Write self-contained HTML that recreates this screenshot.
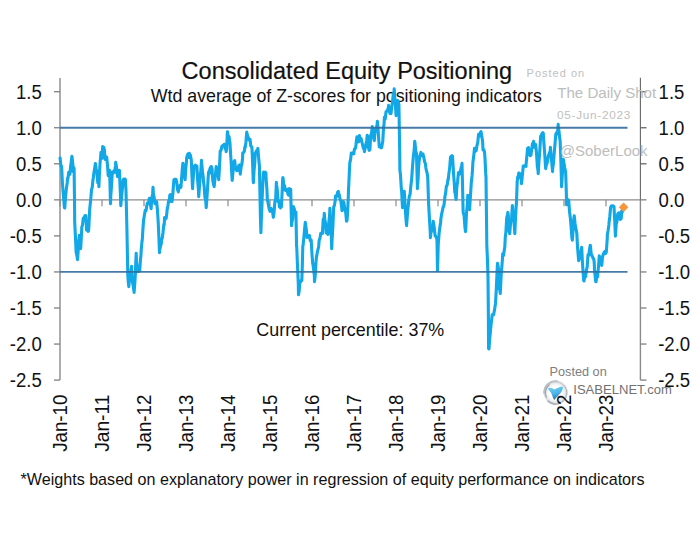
<!DOCTYPE html>
<html><head><meta charset="utf-8"><style>
html,body{margin:0;padding:0;background:#fff;}
svg{display:block;font-family:"Liberation Sans", sans-serif;}
</style></head><body>
<svg width="700" height="536" viewBox="0 0 700 536" font-family='"Liberation Sans", sans-serif' fill="#111" stroke="none">
<rect width="700" height="536" fill="#fff" stroke="none"/>
<text x="549.6" y="376.1" font-size="12.7" fill="#7d7d7d" stroke="none">Posted on</text>
<text x="573.3" y="393.7" font-size="13" textLength="98.6" lengthAdjust="spacingAndGlyphs" fill="#727272" stroke="none">ISABELNET.com</text>
<g transform="translate(555.6,392.6)" stroke="none">
<defs><linearGradient id="bg" x1="0" y1="0" x2="0.3" y2="1"><stop offset="0" stop-color="#74d2f3"/><stop offset="0.6" stop-color="#4cb4e6"/><stop offset="1" stop-color="#2a78b8"/></linearGradient>
<radialGradient id="gg" cx="0.5" cy="0.5" r="0.5"><stop offset="0.55" stop-color="#ffffff"/><stop offset="1" stop-color="#d3d7dd"/></radialGradient></defs>
<circle r="12" fill="url(#gg)"/>
<path d="M-11.5,1 A11.5,11.5 0 0 1 2,-11.4" fill="none" stroke="#b4b9c0" stroke-width="1.5"/>
<path d="M-9,5 A10,10 0 0 1 -6,-8" fill="none" stroke="#9ea4ac" stroke-width="1.2"/>
<path d="M8.5,-7 A11,11 0 0 1 6,9.5" fill="none" stroke="#b9bec5" stroke-width="1.4"/>
<path d="M4,10.8 A11.5,11.5 0 0 1 -8,8" fill="none" stroke="#aab0b8" stroke-width="1.5"/>
<path d="M-6,-9 A11,11 0 0 1 9,-6" fill="none" stroke="#c8ccd2" stroke-width="1"/>
<path d="M-7.4,-4.4 C-5.5,-5.6 -3,-4 -1,-3.2 C1.5,-4.5 5,-6.5 7.4,-5.6 C7.2,-2.5 5.5,0.5 3.2,2.3 C1.5,3.8 0,5.5 -1.4,7.4 C-2.8,5.8 -3.2,3 -4.4,0.5 C-5.6,-1.5 -7.6,-2.6 -7.4,-4.4 Z" fill="url(#bg)"/>
</g>
<line x1="60" y1="78" x2="60" y2="380.1" stroke="#8a8a8a" stroke-width="1.4"/>
<line x1="640.4" y1="200" x2="640.4" y2="380.1" stroke="#8a8a8a" stroke-width="1.4"/>
<line x1="640.4" y1="77.8" x2="640.4" y2="200" stroke="#666" stroke-width="1.1"/>
<line x1="54" y1="91.70" x2="60" y2="91.70" stroke="#808080" stroke-width="1.3"/>
<line x1="640.4" y1="91.70" x2="646.5" y2="91.70" stroke="#666" stroke-width="1.3"/>
<text x="41.8" y="98.60" text-anchor="end" font-size="19.3" textLength="25.8" lengthAdjust="spacingAndGlyphs">1.5</text>
<text x="658.6" y="98.60" font-size="19.3" textLength="25.8" lengthAdjust="spacingAndGlyphs">1.5</text>
<line x1="54" y1="127.75" x2="60" y2="127.75" stroke="#808080" stroke-width="1.3"/>
<line x1="640.4" y1="127.75" x2="646.5" y2="127.75" stroke="#666" stroke-width="1.3"/>
<text x="41.8" y="134.65" text-anchor="end" font-size="19.3" textLength="25.8" lengthAdjust="spacingAndGlyphs">1.0</text>
<text x="658.6" y="134.65" font-size="19.3" textLength="25.8" lengthAdjust="spacingAndGlyphs">1.0</text>
<line x1="54" y1="163.80" x2="60" y2="163.80" stroke="#808080" stroke-width="1.3"/>
<line x1="640.4" y1="163.80" x2="646.5" y2="163.80" stroke="#666" stroke-width="1.3"/>
<text x="41.8" y="170.70" text-anchor="end" font-size="19.3" textLength="25.8" lengthAdjust="spacingAndGlyphs">0.5</text>
<text x="658.6" y="170.70" font-size="19.3" textLength="25.8" lengthAdjust="spacingAndGlyphs">0.5</text>
<line x1="54" y1="199.85" x2="60" y2="199.85" stroke="#808080" stroke-width="1.3"/>
<line x1="640.4" y1="199.85" x2="646.5" y2="199.85" stroke="#808080" stroke-width="1.3"/>
<text x="41.8" y="206.75" text-anchor="end" font-size="19.3" textLength="25.8" lengthAdjust="spacingAndGlyphs">0.0</text>
<text x="658.6" y="206.75" font-size="19.3" textLength="25.8" lengthAdjust="spacingAndGlyphs">0.0</text>
<line x1="54" y1="235.90" x2="60" y2="235.90" stroke="#808080" stroke-width="1.3"/>
<line x1="640.4" y1="235.90" x2="646.5" y2="235.90" stroke="#808080" stroke-width="1.3"/>
<text x="41.8" y="242.80" text-anchor="end" font-size="19.3" textLength="32.0" lengthAdjust="spacingAndGlyphs">-0.5</text>
<text x="658.2" y="242.80" font-size="19.3" textLength="32.0" lengthAdjust="spacingAndGlyphs">-0.5</text>
<line x1="54" y1="271.95" x2="60" y2="271.95" stroke="#808080" stroke-width="1.3"/>
<line x1="640.4" y1="271.95" x2="646.5" y2="271.95" stroke="#808080" stroke-width="1.3"/>
<text x="41.8" y="278.85" text-anchor="end" font-size="19.3" textLength="32.0" lengthAdjust="spacingAndGlyphs">-1.0</text>
<text x="658.2" y="278.85" font-size="19.3" textLength="32.0" lengthAdjust="spacingAndGlyphs">-1.0</text>
<line x1="54" y1="308.00" x2="60" y2="308.00" stroke="#808080" stroke-width="1.3"/>
<line x1="640.4" y1="308.00" x2="646.5" y2="308.00" stroke="#808080" stroke-width="1.3"/>
<text x="41.8" y="314.90" text-anchor="end" font-size="19.3" textLength="32.0" lengthAdjust="spacingAndGlyphs">-1.5</text>
<text x="658.2" y="314.90" font-size="19.3" textLength="32.0" lengthAdjust="spacingAndGlyphs">-1.5</text>
<line x1="54" y1="344.05" x2="60" y2="344.05" stroke="#808080" stroke-width="1.3"/>
<line x1="640.4" y1="344.05" x2="646.5" y2="344.05" stroke="#808080" stroke-width="1.3"/>
<text x="41.8" y="350.95" text-anchor="end" font-size="19.3" textLength="32.0" lengthAdjust="spacingAndGlyphs">-2.0</text>
<text x="658.2" y="350.95" font-size="19.3" textLength="32.0" lengthAdjust="spacingAndGlyphs">-2.0</text>
<line x1="54" y1="380.10" x2="60" y2="380.10" stroke="#808080" stroke-width="1.3"/>
<line x1="640.4" y1="380.10" x2="646.5" y2="380.10" stroke="#808080" stroke-width="1.3"/>
<text x="41.8" y="387.00" text-anchor="end" font-size="19.3" textLength="32.0" lengthAdjust="spacingAndGlyphs">-2.5</text>
<text x="658.2" y="387.00" font-size="19.3" textLength="32.0" lengthAdjust="spacingAndGlyphs">-2.5</text>
<line x1="60" y1="199.85" x2="640" y2="199.85" stroke="#8c8c8c" stroke-width="1.35"/>
<line x1="60.00" y1="199.85" x2="60.00" y2="206.35" stroke="#8a8a8a" stroke-width="1.2"/>
<text transform="translate(66.90,394.6) rotate(-90)" text-anchor="end" font-size="19.3" textLength="57.2" lengthAdjust="spacingAndGlyphs">Jan-10</text>
<line x1="102.00" y1="199.85" x2="102.00" y2="206.35" stroke="#8a8a8a" stroke-width="1.2"/>
<text transform="translate(108.90,394.6) rotate(-90)" text-anchor="end" font-size="19.3" textLength="57.2" lengthAdjust="spacingAndGlyphs">Jan-11</text>
<line x1="144.00" y1="199.85" x2="144.00" y2="206.35" stroke="#8a8a8a" stroke-width="1.2"/>
<text transform="translate(150.90,394.6) rotate(-90)" text-anchor="end" font-size="19.3" textLength="57.2" lengthAdjust="spacingAndGlyphs">Jan-12</text>
<line x1="186.00" y1="199.85" x2="186.00" y2="206.35" stroke="#8a8a8a" stroke-width="1.2"/>
<text transform="translate(192.90,394.6) rotate(-90)" text-anchor="end" font-size="19.3" textLength="57.2" lengthAdjust="spacingAndGlyphs">Jan-13</text>
<line x1="228.00" y1="199.85" x2="228.00" y2="206.35" stroke="#8a8a8a" stroke-width="1.2"/>
<text transform="translate(234.90,394.6) rotate(-90)" text-anchor="end" font-size="19.3" textLength="57.2" lengthAdjust="spacingAndGlyphs">Jan-14</text>
<line x1="270.00" y1="199.85" x2="270.00" y2="206.35" stroke="#8a8a8a" stroke-width="1.2"/>
<text transform="translate(276.90,394.6) rotate(-90)" text-anchor="end" font-size="19.3" textLength="57.2" lengthAdjust="spacingAndGlyphs">Jan-15</text>
<line x1="312.00" y1="199.85" x2="312.00" y2="206.35" stroke="#8a8a8a" stroke-width="1.2"/>
<text transform="translate(318.90,394.6) rotate(-90)" text-anchor="end" font-size="19.3" textLength="57.2" lengthAdjust="spacingAndGlyphs">Jan-16</text>
<line x1="354.00" y1="199.85" x2="354.00" y2="206.35" stroke="#8a8a8a" stroke-width="1.2"/>
<text transform="translate(360.90,394.6) rotate(-90)" text-anchor="end" font-size="19.3" textLength="57.2" lengthAdjust="spacingAndGlyphs">Jan-17</text>
<line x1="396.00" y1="199.85" x2="396.00" y2="206.35" stroke="#8a8a8a" stroke-width="1.2"/>
<text transform="translate(402.90,394.6) rotate(-90)" text-anchor="end" font-size="19.3" textLength="57.2" lengthAdjust="spacingAndGlyphs">Jan-18</text>
<line x1="438.00" y1="199.85" x2="438.00" y2="206.35" stroke="#8a8a8a" stroke-width="1.2"/>
<text transform="translate(444.90,394.6) rotate(-90)" text-anchor="end" font-size="19.3" textLength="57.2" lengthAdjust="spacingAndGlyphs">Jan-19</text>
<line x1="480.00" y1="199.85" x2="480.00" y2="206.35" stroke="#8a8a8a" stroke-width="1.2"/>
<text transform="translate(486.90,394.6) rotate(-90)" text-anchor="end" font-size="19.3" textLength="57.2" lengthAdjust="spacingAndGlyphs">Jan-20</text>
<line x1="522.00" y1="199.85" x2="522.00" y2="206.35" stroke="#8a8a8a" stroke-width="1.2"/>
<text transform="translate(528.90,394.6) rotate(-90)" text-anchor="end" font-size="19.3" textLength="57.2" lengthAdjust="spacingAndGlyphs">Jan-21</text>
<line x1="564.00" y1="199.85" x2="564.00" y2="206.35" stroke="#8a8a8a" stroke-width="1.2"/>
<text transform="translate(570.90,394.6) rotate(-90)" text-anchor="end" font-size="19.3" textLength="57.2" lengthAdjust="spacingAndGlyphs">Jan-22</text>
<line x1="606.00" y1="199.85" x2="606.00" y2="206.35" stroke="#8a8a8a" stroke-width="1.2"/>
<text transform="translate(612.90,394.6) rotate(-90)" text-anchor="end" font-size="19.3" textLength="57.2" lengthAdjust="spacingAndGlyphs">Jan-23</text>
<text x="526.6" y="77.3" font-size="11" letter-spacing="1" fill="#c0c0c0" stroke="none">Posted on</text>
<text x="557.2" y="98.3" font-size="15.1" fill="#bdbdbd" stroke="none">The Daily Shot</text>
<text x="557.0" y="118.9" font-size="11.8" letter-spacing="0.7" fill="#c0c0c0" stroke="none">05-Jun-2023</text>
<text x="181.6" y="78.6" font-size="24.6" textLength="330.5" lengthAdjust="spacingAndGlyphs" stroke="#111" stroke-width="0.2">Consolidated Equity Positioning</text>
<text x="150.8" y="102.3" font-size="18.2" textLength="391" lengthAdjust="spacingAndGlyphs" >Wtd average of Z-scores for positioning indicators</text>
<text x="256.3" y="336.3" font-size="18.2" textLength="188" lengthAdjust="spacingAndGlyphs" >Current percentile: 37%</text>
<text x="20.5" y="485.4" font-size="16.1" textLength="624" lengthAdjust="spacingAndGlyphs" >*Weights based on explanatory power in regression of equity performance on indicators</text>
<path d="M60.0,158.2 L60.1,158.0 L60.8,165.2 L61.6,167.0 L61.6,166.2 L62.4,183.0 L63.1,192.0 L63.2,192.8 L64.0,202.5 L64.4,207.6 L64.8,208.0 L65.6,196.0 L65.7,195.0 L66.4,188.3 L67.2,182.9 L67.6,178.0 L68.0,178.4 L68.7,172.4 L68.9,172.5 L69.7,174.4 L70.0,173.6 L70.5,167.1 L71.3,161.2 L71.9,156.4 L72.1,157.4 L72.9,164.6 L73.2,171.6 L73.7,167.6 L74.1,168.4 L74.5,199.2 L74.7,222.0 L75.3,234.1 L76.1,251.5 L76.1,252.0 L76.9,255.6 L77.5,259.6 L77.7,257.1 L78.4,248.0 L78.5,243.2 L79.3,235.4 L79.3,235.4 L80.1,244.3 L80.6,248.6 L80.9,244.9 L81.7,230.0 L81.7,227.8 L82.5,225.0 L83.3,218.2 L84.0,219.0 L84.1,217.5 L85.0,215.6 L85.5,216.4 L85.8,215.7 L86.6,230.2 L86.8,230.0 L87.4,229.2 L88.2,231.4 L88.6,230.6 L89.0,224.0 L89.6,211.0 L89.8,208.1 L90.6,200.6 L91.4,191.4 L91.4,190.0 L92.2,187.5 L93.0,179.3 L93.3,178.0 L93.8,173.6 L94.6,168.8 L95.4,163.6 L95.6,164.4 L96.2,169.0 L97.0,173.3 L97.4,178.0 L97.8,183.0 L98.6,180.6 L98.9,186.6 L99.4,174.4 L100.2,160.5 L100.4,160.0 L101.0,152.2 L101.9,158.4 L102.3,152.0 L102.7,146.6 L103.5,147.7 L103.8,147.4 L104.3,149.4 L105.1,159.4 L105.4,158.6 L105.9,156.6 L106.7,159.4 L106.7,157.4 L107.5,165.2 L108.2,175.6 L108.3,174.9 L109.1,170.9 L109.7,170.4 L109.9,180.4 L110.5,203.6 L110.7,197.2 L111.5,185.8 L112.3,172.4 L112.3,173.2 L113.1,173.2 L113.9,170.8 L114.2,171.6 L114.7,172.0 L115.5,165.7 L115.7,162.4 L116.3,166.0 L117.1,174.0 L117.6,176.6 L118.0,174.3 L118.8,176.6 L119.4,170.4 L119.6,175.0 L120.4,194.2 L120.8,205.6 L121.2,201.1 L122.0,192.6 L122.8,184.0 L123.2,180.0 L123.6,179.2 L124.4,180.8 L125.2,179.2 L125.4,180.0 L126.0,190.6 L126.8,224.7 L126.9,228.0 L127.6,264.8 L127.8,275.0 L128.4,283.1 L128.8,286.6 L129.2,282.3 L130.0,275.1 L130.3,273.0 L130.8,271.1 L131.6,266.4 L131.6,269.4 L132.4,279.9 L132.5,282.0 L133.2,285.9 L134.0,291.6 L134.1,292.4 L134.9,281.9 L135.3,275.0 L135.7,264.0 L136.2,253.4 L136.5,262.2 L137.3,268.3 L137.7,271.6 L138.1,270.2 L138.9,270.2 L139.6,271.0 L139.7,270.7 L140.5,258.7 L140.9,256.0 L141.3,248.9 L142.1,240.2 L142.2,241.0 L142.9,229.4 L143.7,219.0 L143.7,219.8 L144.5,214.5 L145.3,210.2 L145.6,211.0 L146.1,210.3 L146.9,205.2 L147.4,203.0 L147.7,203.8 L148.5,203.1 L149.3,198.4 L149.3,198.3 L150.1,202.9 L151.0,207.7 L151.1,208.6 L151.8,198.5 L152.6,193.9 L153.0,187.4 L153.4,193.8 L154.2,197.8 L154.9,203.6 L155.0,203.0 L155.8,202.4 L156.6,201.6 L156.7,202.4 L157.4,209.5 L158.2,222.0 L158.2,222.0 L159.0,239.9 L159.5,252.6 L159.8,249.0 L160.6,245.9 L161.4,243.0 L161.4,239.1 L162.2,238.5 L163.0,232.7 L163.8,224.6 L164.2,225.0 L164.6,217.5 L165.4,219.2 L166.2,218.1 L167.0,212.0 L167.1,209.9 L167.9,205.8 L168.7,200.8 L169.5,198.9 L169.8,195.4 L170.3,194.6 L171.1,201.4 L171.9,200.5 L172.0,201.6 L172.7,196.0 L173.5,184.7 L173.9,180.0 L174.3,179.5 L175.1,179.2 L175.9,179.2 L176.3,180.4 L176.7,182.2 L177.5,189.2 L178.2,191.6 L178.3,191.8 L179.1,186.9 L179.9,186.9 L180.1,185.4 L180.7,187.4 L181.0,186.6 L181.5,179.6 L182.3,169.1 L182.9,163.4 L183.2,164.3 L184.0,173.1 L184.8,178.4 L185.1,179.6 L185.6,170.7 L186.4,162.2 L186.6,158.0 L187.2,155.9 L188.0,153.9 L188.8,157.4 L189.4,153.4 L189.6,156.0 L190.4,155.1 L191.2,159.8 L191.3,160.0 L192.0,176.7 L192.6,188.6 L192.8,183.9 L193.6,173.0 L194.1,166.0 L194.4,166.8 L195.2,165.2 L196.0,166.8 L196.8,166.8 L196.9,166.0 L197.6,179.8 L198.4,189.0 L198.7,196.6 L199.2,190.3 L200.1,177.0 L200.9,170.1 L201.5,160.4 L201.7,163.6 L202.5,171.4 L203.3,177.8 L203.4,181.0 L204.1,186.0 L204.9,197.1 L205.7,200.6 L206.2,207.6 L206.5,204.4 L207.3,192.5 L208.1,178.7 L208.6,172.0 L208.9,172.8 L209.7,169.5 L210.5,167.4 L210.5,172.6 L211.3,166.6 L212.1,168.9 L212.3,175.0 L212.9,181.2 L213.7,185.3 L214.2,186.6 L214.5,182.9 L215.3,176.5 L216.2,166.6 L216.4,167.4 L217.0,168.8 L217.8,172.1 L218.6,178.4 L218.7,179.6 L219.4,168.9 L220.2,151.6 L220.2,151.0 L221.0,150.5 L221.8,146.5 L222.6,145.7 L223.0,146.0 L223.4,145.9 L224.2,144.3 L224.8,144.4 L225.0,148.6 L225.8,147.9 L226.1,151.6 L226.6,149.4 L227.4,131.9 L227.6,131.9 L228.2,137.2 L229.0,136.3 L229.8,142.8 L229.9,142.0 L230.6,154.2 L231.4,166.0 L231.4,167.6 L232.2,180.4 L232.3,179.6 L233.1,170.8 L233.9,162.2 L234.2,161.4 L234.7,160.6 L235.5,169.2 L236.3,167.7 L236.6,170.6 L237.1,168.0 L237.9,167.5 L238.7,170.4 L238.8,165.4 L239.5,165.0 L240.3,174.2 L240.3,173.6 L241.1,167.2 L241.9,164.0 L242.6,158.0 L242.7,153.1 L243.5,152.5 L244.3,151.4 L244.8,147.0 L245.1,147.8 L245.9,142.4 L246.7,132.9 L246.7,132.1 L247.5,135.5 L248.3,137.5 L249.1,140.0 L249.2,139.2 L250.0,139.2 L250.8,146.0 L251.6,146.8 L251.9,147.0 L252.4,157.9 L253.2,180.2 L253.4,182.6 L254.0,171.1 L254.8,162.3 L255.3,153.0 L255.6,152.5 L256.4,150.9 L257.2,150.8 L257.9,148.4 L258.0,150.1 L258.8,159.7 L259.4,166.0 L259.6,176.3 L260.4,216.0 L260.9,232.6 L261.2,222.9 L262.0,204.1 L262.2,197.0 L262.8,184.6 L263.3,173.0 L263.6,172.2 L264.4,173.8 L265.3,172.2 L265.9,173.0 L266.1,178.7 L266.9,189.0 L267.4,201.0 L267.7,200.7 L268.5,205.4 L269.3,209.4 L270.1,211.4 L270.2,210.6 L270.9,211.1 L271.1,208.4 L271.7,209.9 L272.5,210.9 L273.3,217.2 L273.5,216.6 L274.1,211.9 L274.9,201.7 L275.7,199.1 L275.8,196.0 L276.4,182.4 L276.5,184.2 L277.3,190.3 L278.0,200.0 L278.1,201.7 L278.9,201.2 L279.5,207.0 L279.7,206.2 L280.5,207.8 L281.3,206.2 L281.4,207.0 L282.2,190.5 L282.7,178.4 L283.0,177.6 L283.8,185.3 L284.6,185.7 L285.1,190.0 L285.4,190.4 L286.2,189.2 L287.0,189.2 L287.3,190.0 L287.8,193.8 L288.6,195.1 L288.8,194.6 L289.4,188.6 L290.2,193.0 L290.7,189.4 L291.0,203.9 L291.6,225.6 L291.8,222.7 L292.6,219.2 L293.4,206.6 L293.5,207.4 L294.2,208.6 L295.0,212.8 L295.8,212.8 L295.9,212.0 L296.6,246.6 L296.7,246.0 L297.4,263.5 L298.3,283.6 L298.5,294.6 L299.1,291.8 L299.9,281.9 L300.3,282.4 L300.7,281.6 L301.5,279.8 L301.8,280.6 L302.3,266.6 L302.8,246.0 L303.1,245.3 L303.9,237.1 L304.7,228.2 L305.3,222.4 L305.5,224.1 L306.3,229.6 L307.1,236.6 L307.1,237.4 L307.9,237.1 L308.7,237.4 L309.4,236.4 L309.5,235.6 L310.3,240.8 L311.1,240.5 L311.2,240.0 L311.9,253.0 L312.7,263.5 L313.1,265.0 L313.5,268.2 L314.4,275.8 L314.5,281.6 L315.2,276.1 L316.0,261.8 L316.4,257.0 L316.8,255.5 L317.6,250.8 L318.4,247.9 L318.7,246.0 L319.2,240.2 L320.0,237.9 L320.6,234.4 L320.8,233.2 L321.6,233.9 L322.4,233.6 L322.4,233.6 L323.2,219.4 L324.0,218.5 L324.3,213.4 L324.8,219.8 L325.6,223.6 L326.1,233.0 L326.4,232.2 L327.2,233.4 L328.0,233.6 L328.0,234.4 L328.8,222.5 L329.6,215.1 L329.9,208.4 L330.4,220.7 L331.3,236.2 L331.7,248.6 L332.1,239.5 L332.9,226.1 L333.6,209.0 L333.7,207.1 L334.5,205.0 L335.3,200.0 L335.5,196.0 L336.1,196.5 L336.9,196.2 L337.7,192.0 L338.3,191.4 L338.5,192.4 L339.3,195.2 L340.1,199.3 L340.9,201.2 L341.7,207.8 L342.0,210.6 L342.5,205.8 L343.3,201.6 L343.9,202.4 L344.1,204.1 L344.9,209.6 L345.7,212.4 L346.5,221.2 L347.0,220.6 L347.4,215.7 L348.2,199.5 L348.5,190.0 L349.0,179.9 L349.8,162.8 L350.0,162.0 L350.6,159.4 L351.3,153.0 L351.4,153.7 L352.2,153.8 L353.0,152.8 L353.8,153.8 L354.1,151.0 L354.6,148.7 L355.4,148.5 L356.0,145.0 L356.2,142.3 L357.0,136.8 L357.8,139.2 L358.6,141.8 L359.3,136.4 L359.4,135.6 L360.2,140.8 L361.0,138.5 L361.8,140.9 L361.9,142.0 L362.6,145.0 L363.4,148.5 L364.3,148.7 L364.4,151.6 L365.1,148.1 L365.9,144.2 L366.7,140.5 L367.2,135.4 L367.5,135.8 L368.3,147.6 L369.0,149.6 L369.1,150.4 L369.9,149.6 L370.7,135.3 L371.5,133.7 L372.3,126.6 L372.4,127.4 L373.1,133.2 L373.9,139.2 L374.3,140.6 L374.7,135.3 L375.5,129.2 L376.3,128.5 L377.1,124.6 L377.4,121.4 L377.9,126.7 L378.7,138.9 L379.3,147.0 L379.5,146.2 L380.4,146.2 L381.2,147.8 L381.7,147.6 L382.0,145.4 L382.8,140.9 L383.6,126.5 L384.0,125.0 L384.4,117.4 L385.2,119.1 L386.0,111.8 L386.2,112.0 L386.8,111.1 L387.6,109.9 L388.4,107.4 L388.6,105.4 L389.2,110.9 L390.0,113.5 L390.8,109.0 L391.0,113.6 L391.6,108.3 L392.4,102.0 L392.4,102.8 L393.2,95.0 L394.0,92.4 L394.2,88.9 L394.8,97.8 L395.6,108.2 L396.1,115.6 L396.5,115.3 L397.3,104.6 L397.4,100.4 L398.1,101.4 L398.9,104.8 L398.9,104.0 L399.7,151.7 L399.9,170.0 L400.5,175.1 L401.3,188.6 L401.5,189.0 L402.1,200.0 L402.5,207.6 L402.9,201.5 L403.7,197.9 L404.3,191.4 L404.5,195.2 L405.3,209.4 L406.1,220.6 L406.6,225.6 L406.9,221.2 L407.7,211.0 L408.4,204.0 L408.5,202.7 L409.3,196.4 L410.1,194.3 L410.9,185.0 L410.9,185.8 L411.7,178.6 L412.5,166.9 L412.9,162.0 L413.4,156.2 L414.2,149.8 L414.7,141.4 L415.0,142.9 L415.8,151.3 L416.6,153.8 L416.6,158.0 L417.4,186.7 L417.4,188.6 L418.2,177.4 L418.5,168.0 L419.0,162.4 L419.8,156.0 L420.6,154.0 L420.9,152.4 L421.4,155.8 L422.2,155.8 L423.0,154.0 L423.1,155.0 L423.8,157.2 L424.6,161.8 L425.4,163.6 L425.9,168.0 L426.2,169.6 L427.0,172.6 L427.6,176.0 L427.8,179.2 L428.6,204.0 L428.6,203.5 L429.5,219.3 L430.3,232.9 L430.4,237.6 L431.1,231.1 L431.9,231.3 L432.7,229.0 L433.2,221.4 L433.5,222.7 L434.3,228.1 L435.1,235.8 L435.1,235.0 L435.9,236.9 L436.7,238.2 L437.0,241.0 L437.5,270.6 L437.5,270.6 L438.3,243.0 L438.3,243.8 L439.1,233.4 L439.9,227.1 L440.7,222.0 L440.7,220.3 L441.5,214.7 L442.3,211.2 L443.1,207.0 L443.1,207.8 L443.9,205.6 L444.7,199.1 L445.0,196.0 L445.6,193.3 L446.4,186.2 L447.2,185.1 L448.0,179.2 L448.2,180.0 L448.8,174.1 L449.6,168.6 L450.4,158.7 L450.5,157.0 L451.2,156.3 L452.0,155.6 L452.5,156.4 L452.8,161.1 L453.6,174.4 L454.4,185.0 L454.7,192.0 L455.2,193.0 L456.0,199.4 L456.2,198.6 L456.8,187.5 L457.6,181.2 L458.4,173.4 L458.4,172.6 L459.2,174.4 L459.5,173.6 L460.0,172.9 L460.8,169.4 L461.6,165.8 L462.0,163.4 L462.5,183.7 L463.1,211.0 L463.3,213.1 L464.1,215.5 L464.9,226.8 L465.5,231.6 L465.7,230.3 L466.5,212.8 L467.3,205.5 L467.8,195.4 L468.1,199.3 L468.9,200.4 L469.6,209.6 L469.7,207.0 L470.5,195.3 L471.3,182.6 L471.5,181.0 L472.1,175.2 L472.5,170.0 L472.9,162.4 L473.7,156.3 L474.5,148.4 L474.5,149.0 L475.3,151.2 L476.1,150.6 L476.2,150.6 L476.9,145.7 L477.7,142.9 L478.6,134.2 L478.8,135.0 L479.4,135.8 L480.2,132.8 L481.0,131.6 L481.2,132.4 L481.8,136.6 L482.6,141.3 L483.0,150.0 L483.4,149.2 L484.2,150.8 L484.5,152.0 L485.0,158.3 L485.8,175.3 L486.0,177.0 L486.6,225.9 L486.8,245.0 L487.4,258.0 L488.0,277.0 L488.2,296.2 L488.4,318.0 L488.6,348.6 L489.0,348.9 L489.8,337.5 L490.2,334.0 L490.6,329.1 L491.4,321.7 L492.2,314.9 L492.5,315.4 L493.0,314.6 L493.6,314.6 L493.8,313.8 L494.6,309.4 L495.5,303.4 L495.8,298.0 L496.3,289.3 L497.1,270.7 L497.5,263.4 L497.9,265.3 L498.7,270.6 L498.8,277.0 L499.2,289.0 L499.5,288.2 L500.3,293.4 L500.3,292.6 L501.1,276.3 L501.4,271.0 L501.9,266.1 L502.5,258.0 L502.7,253.8 L503.5,255.4 L504.3,250.1 L504.8,247.0 L505.1,240.8 L505.3,237.0 L505.9,232.1 L506.7,218.2 L507.5,214.6 L507.9,212.4 L508.3,215.3 L509.1,231.3 L509.7,233.6 L509.9,230.8 L510.7,222.2 L511.6,217.7 L512.4,205.6 L512.5,206.4 L513.2,217.6 L514.0,222.1 L514.8,233.1 L514.8,233.6 L515.6,216.1 L516.3,204.0 L516.4,204.4 L517.2,181.7 L517.7,177.0 L518.0,177.8 L518.8,173.0 L519.6,173.4 L519.6,173.4 L520.4,177.8 L521.2,179.3 L521.5,183.6 L522.0,179.1 L522.8,171.1 L523.3,166.0 L523.6,166.8 L524.4,165.9 L525.2,166.1 L526.0,166.4 L526.1,164.0 L526.8,156.9 L527.6,148.4 L528.0,148.4 L528.5,147.6 L529.3,154.2 L530.1,154.3 L530.2,155.6 L530.9,155.3 L531.7,149.5 L532.5,143.6 L533.3,144.9 L533.6,141.4 L534.1,147.3 L534.9,144.3 L535.7,144.5 L535.8,147.0 L536.5,152.8 L537.3,165.9 L538.1,171.2 L538.2,173.6 L538.9,161.8 L539.7,152.3 L540.5,138.6 L540.7,136.0 L541.3,135.6 L542.1,133.3 L542.9,132.6 L543.3,133.4 L543.7,140.4 L544.6,152.1 L545.4,165.0 L545.7,168.6 L546.2,165.2 L547.0,163.3 L547.8,159.7 L548.1,157.0 L548.6,155.2 L549.4,153.0 L550.2,150.7 L550.4,147.4 L551.0,154.4 L551.8,163.0 L552.6,171.6 L552.6,169.2 L553.4,163.5 L554.2,153.5 L555.0,144.1 L555.8,134.0 L556.0,134.0 L556.6,132.6 L557.4,133.9 L558.2,124.4 L558.2,125.7 L559.0,131.5 L559.8,139.0 L560.1,140.0 L560.7,155.7 L561.5,182.4 L561.6,186.6 L562.3,175.0 L563.1,162.9 L563.4,159.4 L563.9,162.7 L564.7,167.5 L565.5,171.4 L565.7,173.0 L566.3,191.7 L566.6,204.6 L567.1,204.3 L567.9,199.6 L568.7,200.4 L568.7,200.4 L569.5,211.2 L570.2,217.0 L570.3,217.4 L571.1,227.1 L571.9,237.8 L572.3,240.1 L572.7,236.0 L573.5,221.3 L574.2,215.9 L574.3,216.3 L575.1,224.0 L575.9,229.0 L575.9,228.2 L576.8,233.2 L577.6,248.2 L578.4,257.7 L578.6,260.6 L579.2,259.2 L580.0,255.0 L580.8,251.7 L581.6,248.5 L581.7,247.4 L582.4,262.1 L583.2,273.3 L583.7,280.6 L584.0,280.9 L584.8,275.9 L585.6,276.7 L586.2,272.0 L586.4,270.2 L587.2,267.0 L588.0,254.9 L588.8,255.1 L589.6,249.0 L590.2,245.4 L590.4,245.5 L591.2,254.0 L592.0,256.1 L592.2,256.0 L592.8,257.6 L593.7,259.1 L594.2,262.0 L594.5,269.9 L595.3,277.7 L595.7,281.6 L596.1,281.7 L596.9,275.0 L597.7,276.6 L597.8,273.0 L598.5,266.8 L599.3,255.9 L599.3,256.4 L600.1,258.7 L600.9,257.7 L601.7,265.4 L601.8,264.6 L602.5,257.0 L603.3,254.0 L603.3,254.8 L604.1,252.4 L604.9,251.4 L605.7,253.3 L606.3,252.0 L606.5,249.3 L607.3,238.0 L607.3,235.0 L608.1,230.4 L608.9,224.9 L609.0,223.0 L609.8,216.5 L610.6,207.6 L611.1,206.5 L611.4,205.9 L612.2,205.7 L613.0,205.7 L613.8,206.6 L614.0,206.5 L614.6,218.6 L615.4,235.3 L615.4,236.1 L616.2,224.4 L617.0,221.3 L617.6,214.5 L617.8,213.9 L618.6,212.8 L619.4,213.6 L619.7,213.0 L620.2,219.4 L621.0,214.8 L621.2,218.6 L621.8,210.8 L621.9,211.6 L622.6,211.6 L623.4,206.5 L623.6,207.3" fill="none" stroke="#12a8e8" stroke-width="3.1" stroke-linejoin="round" stroke-linecap="round"/>
<line x1="60" y1="127.75" x2="627.5" y2="127.75" stroke="#336c9c" stroke-width="1.8" stroke-opacity="0.9"/>
<line x1="60" y1="271.95" x2="627.5" y2="271.95" stroke="#336c9c" stroke-width="1.8" stroke-opacity="0.9"/>
<text x="559.8" y="156.3" font-size="15" fill="#bdbdbd" stroke="none">@SoberLook</text>
<path d="M623.6,202.5 L628.4,207.3 L623.6,212.10000000000002 L618.8000000000001,207.3 Z" fill="#f7953a" stroke="none"/>
</svg></body></html>
